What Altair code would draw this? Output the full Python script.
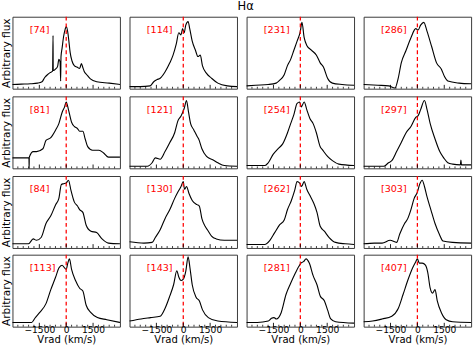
import altair as alt
import pandas as pd

# ---- panel labels (row by row) ----
LABELS = ["[74]", "[114]", "[231]", "[286]",
          "[81]", "[121]", "[254]", "[297]",
          "[84]", "[130]", "[262]", "[303]",
          "[113]", "[143]", "[281]", "[407]"]
TITLE = ["Hα"]

# ---- line profiles: radial velocity (km/s) and arbitrary flux ----
V_74 = [-3000, -2500, -2000, -1600, -1350, -1200, -1050, -900, -760, -735, -725, -700, -600, -480, -410, -340, -310, -290, -230, -150, -60, 0, 80, 150, 220, 320, 450, 600, 750, 850, 920, 1000, 1150, 1350, 1700, 2400, 3000]
F_74 = [0.06, 0.065, 0.07, 0.08, 0.10, 0.16, 0.20, 0.23, 0.25, 0.76, 0.26, 0.26, 0.28, 0.32, 0.42, 0.38, 0.11, 0.46, 0.58, 0.74, 0.85, 0.89, 0.82, 0.68, 0.52, 0.40, 0.33, 0.31, 0.29, 0.36, 0.31, 0.25, 0.20, 0.14, 0.10, 0.08, 0.06]

V_114 = [-3000, -2400, -1850, -1650, -1470, -1290, -1020, -750, -570, -390, -250, -125, -40, 50, 140, 270, 360, 500, 680, 820, 950, 1070, 1300, 1580, 1930, 2470, 3000]
F_114 = [0.03, 0.03, 0.04, 0.10, 0.13, 0.15, 0.24, 0.37, 0.48, 0.64, 0.80, 0.77, 0.86, 0.80, 0.91, 0.96, 0.86, 0.68, 0.55, 0.46, 0.48, 0.33, 0.22, 0.15, 0.08, 0.04, 0.03]

V_231 = [-3000, -2500, -1800, -1350, -1160, -900, -720, -540, -360, -180, 0, 90, 215, 360, 630, 900, 1110, 1290, 1520, 1790, 2330, 3000]
F_231 = [0.04, 0.05, 0.06, 0.08, 0.12, 0.20, 0.33, 0.42, 0.55, 0.68, 0.82, 0.95, 0.73, 0.62, 0.55, 0.48, 0.37, 0.31, 0.15, 0.08, 0.06, 0.05]

V_286 = [-3000, -2200, -1600, -1250, -1070, -900, -630, -360, -90, 40, 180, 360, 540, 800, 1070, 1340, 1520, 1700, 2330, 3000]
F_286 = [0.06, 0.05, 0.04, 0.01, 0.15, 0.37, 0.55, 0.73, 0.86, 0.84, 0.91, 0.95, 0.82, 0.60, 0.37, 0.28, 0.17, 0.11, 0.08, 0.07]

V_81 = [-3000, -2500, -2080, -2070, -2060, -1840, -1660, -1300, -1130, -860, -590, -410, -230, -90, 0, 125, 300, 450, 630, 750, 930, 1060, 1200, 1470, 1830, 2090, 2360, 3000]
F_81 = [0.15, 0.15, 0.15, 0.0, 0.16, 0.24, 0.24, 0.28, 0.40, 0.44, 0.55, 0.64, 0.80, 0.88, 0.95, 0.84, 0.66, 0.60, 0.57, 0.53, 0.53, 0.42, 0.31, 0.26, 0.26, 0.22, 0.16, 0.16]

V_121 = [-3000, -2300, -2000, -1740, -1560, -1290, -1020, -750, -480, -300, -125, -35, 55, 180, 285, 410, 590, 770, 860, 1040, 1300, 1670, 1930, 2290, 3000]
F_121 = [0.03, 0.03, 0.03, 0.08, 0.15, 0.13, 0.24, 0.37, 0.51, 0.68, 0.75, 0.80, 0.86, 0.97, 0.82, 0.64, 0.55, 0.46, 0.42, 0.28, 0.17, 0.12, 0.08, 0.04, 0.03]

V_254 = [-3000, -2400, -1970, -1790, -1520, -1250, -985, -715, -540, -360, -180, -35, 55, 215, 360, 540, 715, 895, 1110, 1250, 1520, 1790, 2150, 3000]
F_254 = [0.04, 0.04, 0.04, 0.08, 0.20, 0.28, 0.35, 0.51, 0.64, 0.77, 0.93, 0.95, 0.88, 0.95, 0.84, 0.71, 0.64, 0.51, 0.31, 0.26, 0.17, 0.11, 0.06, 0.04]

V_297 = [-3000, -2400, -1880, -1610, -1430, -1160, -900, -630, -360, -90, 35, 180, 395, 540, 715, 985, 1250, 1470, 1700, 1970, 2400, 2430, 2460, 3000]
F_297 = [0.03, 0.03, 0.03, 0.08, 0.11, 0.24, 0.37, 0.51, 0.60, 0.73, 0.75, 0.84, 0.97, 0.84, 0.64, 0.42, 0.24, 0.15, 0.08, 0.06, 0.05, 0.12, 0.05, 0.05]

V_84 = [-3000, -2500, -2110, -1840, -1660, -1400, -1130, -860, -590, -410, -270, -140, 0, 125, 270, 450, 630, 750, 930, 1110, 1380, 1700, 2000, 2360, 3000]
F_84 = [0.06, 0.06, 0.06, 0.13, 0.11, 0.15, 0.35, 0.46, 0.62, 0.71, 0.91, 0.92, 0.93, 0.97, 0.82, 0.66, 0.60, 0.55, 0.51, 0.33, 0.24, 0.22, 0.13, 0.07, 0.06]

V_130 = [-3000, -2200, -1740, -1560, -1290, -1020, -750, -480, -300, -125, 0, 70, 180, 320, 500, 770, 895, 1040, 1220, 1400, 1580, 1840, 2290, 3000]
F_130 = [0.09, 0.07, 0.08, 0.15, 0.26, 0.42, 0.55, 0.71, 0.80, 0.88, 0.95, 0.84, 0.88, 0.78, 0.68, 0.62, 0.60, 0.42, 0.31, 0.24, 0.17, 0.13, 0.11, 0.11]

V_262 = [-3000, -2400, -1990, -1700, -1430, -1160, -900, -715, -500, -320, -180, -35, 70, 215, 360, 540, 750, 930, 1110, 1340, 1610, 1970, 2500, 3000]
F_262 = [0.05, 0.05, 0.05, 0.11, 0.22, 0.33, 0.40, 0.55, 0.68, 0.82, 0.95, 0.93, 0.88, 0.95, 0.84, 0.75, 0.64, 0.51, 0.31, 0.24, 0.15, 0.08, 0.06, 0.05]

V_303 = [-3000, -2400, -1970, -1520, -1160, -985, -715, -540, -360, -180, 0, 125, 270, 395, 540, 750, 985, 1220, 1430, 1970, 3000]
F_303 = [0.06, 0.07, 0.07, 0.11, 0.08, 0.20, 0.35, 0.42, 0.55, 0.71, 0.80, 0.91, 0.97, 0.88, 0.73, 0.55, 0.35, 0.20, 0.10, 0.08, 0.07]

V_113 = [-3000, -2400, -1930, -1750, -1490, -1130, -860, -590, -410, -230, -90, 0, 90, 180, 300, 520, 750, 930, 1110, 1380, 1740, 2270, 3000]
F_113 = [0.06, 0.06, 0.06, 0.12, 0.20, 0.33, 0.53, 0.71, 0.84, 0.88, 0.84, 0.82, 0.91, 0.97, 0.82, 0.66, 0.55, 0.51, 0.31, 0.20, 0.13, 0.10, 0.06]

V_143 = [-3000, -2360, -1830, -1290, -1020, -750, -540, -360, -250, -125, 0, 145, 270, 375, 500, 715, 895, 1075, 1400, 1930, 3000]
F_143 = [0.08, 0.11, 0.13, 0.15, 0.26, 0.44, 0.60, 0.80, 0.71, 0.66, 0.68, 0.80, 1.00, 0.84, 0.60, 0.42, 0.37, 0.24, 0.13, 0.08, 0.06]

V_281 = [-3000, -2400, -1790, -1610, -1470, -1340, -1070, -800, -540, -270, -90, 35, 180, 320, 500, 715, 930, 1110, 1340, 1520, 1700, 1970, 3000]
F_281 = [0.06, 0.06, 0.08, 0.12, 0.13, 0.11, 0.20, 0.46, 0.62, 0.77, 0.86, 0.91, 0.93, 0.97, 0.91, 0.73, 0.60, 0.44, 0.37, 0.24, 0.11, 0.07, 0.05]

V_407 = [-3000, -2500, -1970, -1430, -1070, -800, -540, -270, -90, 0, 105, 270, 450, 575, 715, 840, 985, 1110, 1340, 1610, 1970, 3000]
F_407 = [0.07, 0.08, 0.11, 0.15, 0.26, 0.46, 0.66, 0.84, 0.93, 0.97, 0.91, 0.91, 0.88, 0.78, 0.55, 0.48, 0.53, 0.37, 0.20, 0.10, 0.07, 0.06]

# ---- axis ticks / reference line ----
X_TICK_LABELS = [-1500, 0, 1500]
MINOR_TICKS = [-2700, -2400, -2100, -1800, -1200, -900, -600, -300,
               300, 600, 900, 1200, 1800, 2100, 2400, 2700]
ZERO_LINE = [0]

PROFILES = [(V_74, F_74), (V_114, F_114), (V_231, F_231), (V_286, F_286),
            (V_81, F_81), (V_121, F_121), (V_254, F_254), (V_297, F_297),
            (V_84, F_84), (V_130, F_130), (V_262, F_262), (V_303, F_303),
            (V_113, F_113), (V_143, F_143), (V_281, F_281), (V_407, F_407)]

W, H = 112, 75
FONT = "DejaVu Sans"
XSCALE = alt.Scale(domain=[-3000, 3000], nice=False, zero=False)
YSCALE = alt.Scale(domain=[0, 1.03], nice=False, zero=False)

XAXIS_BOTTOM = alt.Axis(title="Vrad (km/s)", values=X_TICK_LABELS, format="d",
                        ticks=False, tickSize=0, domain=False, grid=False,
                        labelFontSize=9.5, labelPadding=-2, labelBaseline="top",
                        titleFontSize=10.5, titleFontWeight="normal",
                        titlePadding=1, labelFont=FONT, titleFont=FONT,
                        labelColor="black", titleColor="black")


def xenc(row):
    if row == 3:
        return alt.X("v:Q", scale=XSCALE, axis=XAXIS_BOTTOM)
    return alt.X("v:Q", scale=XSCALE, axis=None)


def panel(idx):
    row, col = divmod(idx, 4)
    v, f = PROFILES[idx]
    df = pd.DataFrame({"v": v, "f": f})
    if col == 0:
        yaxis = alt.Axis(title="Arbitrary flux", labels=False, ticks=False, domain=False,
                         grid=False, titleFontSize=11, titleFontWeight="normal",
                         titlePadding=1, titleFont=FONT, titleColor="black")
    else:
        yaxis = None
    line = alt.Chart(df).mark_line(color="black", strokeWidth=1.15, interpolate="monotone").encode(
        x=xenc(row),
        y=alt.Y("f:Q", scale=YSCALE, axis=yaxis),
    )
    zero = alt.Chart(pd.DataFrame({"v": ZERO_LINE})).mark_rule(
        color="red", strokeDash=[4, 3], strokeWidth=1.3).encode(x=xenc(row))
    minor = alt.Chart(pd.DataFrame({"v": MINOR_TICKS})).mark_rule(
        color="black", strokeWidth=0.8).encode(
        x=xenc(row), y=alt.value(H), y2=alt.value(H - 2))
    major = alt.Chart(pd.DataFrame({"v": X_TICK_LABELS})).mark_rule(
        color="black", strokeWidth=0.9).encode(
        x=xenc(row), y=alt.value(H), y2=alt.value(H - 4))
    lab = alt.Chart(pd.DataFrame({"t": [LABELS[idx]]})).mark_text(
        color="red", align="left", baseline="middle", fontSize=10, font=FONT).encode(
        x=alt.value(18), y=alt.value(14), text="t:N")
    return alt.layer(line, zero, minor, major, lab).properties(width=W, height=H)


header = alt.Chart(pd.DataFrame({"t": TITLE})).mark_text(
    fontSize=12, font=FONT, color="black", align="center", baseline="middle").encode(
    x=alt.value(243), y=alt.value(5), text="t:N"
).properties(width=460, height=10, view=alt.ViewBackground(strokeOpacity=0))

rows = [alt.hconcat(*[panel(r * 4 + c) for c in range(4)], spacing=4) for r in range(4)]
chart = alt.vconcat(header, *rows, spacing=3).properties(
    padding={"left": 0, "top": -7, "right": 0, "bottom": 0},
).configure_view(stroke="#333", strokeWidth=1).configure_concat(spacing=4)

chart.save("out.html", embed_options={"renderer": "svg", "actions": False})
